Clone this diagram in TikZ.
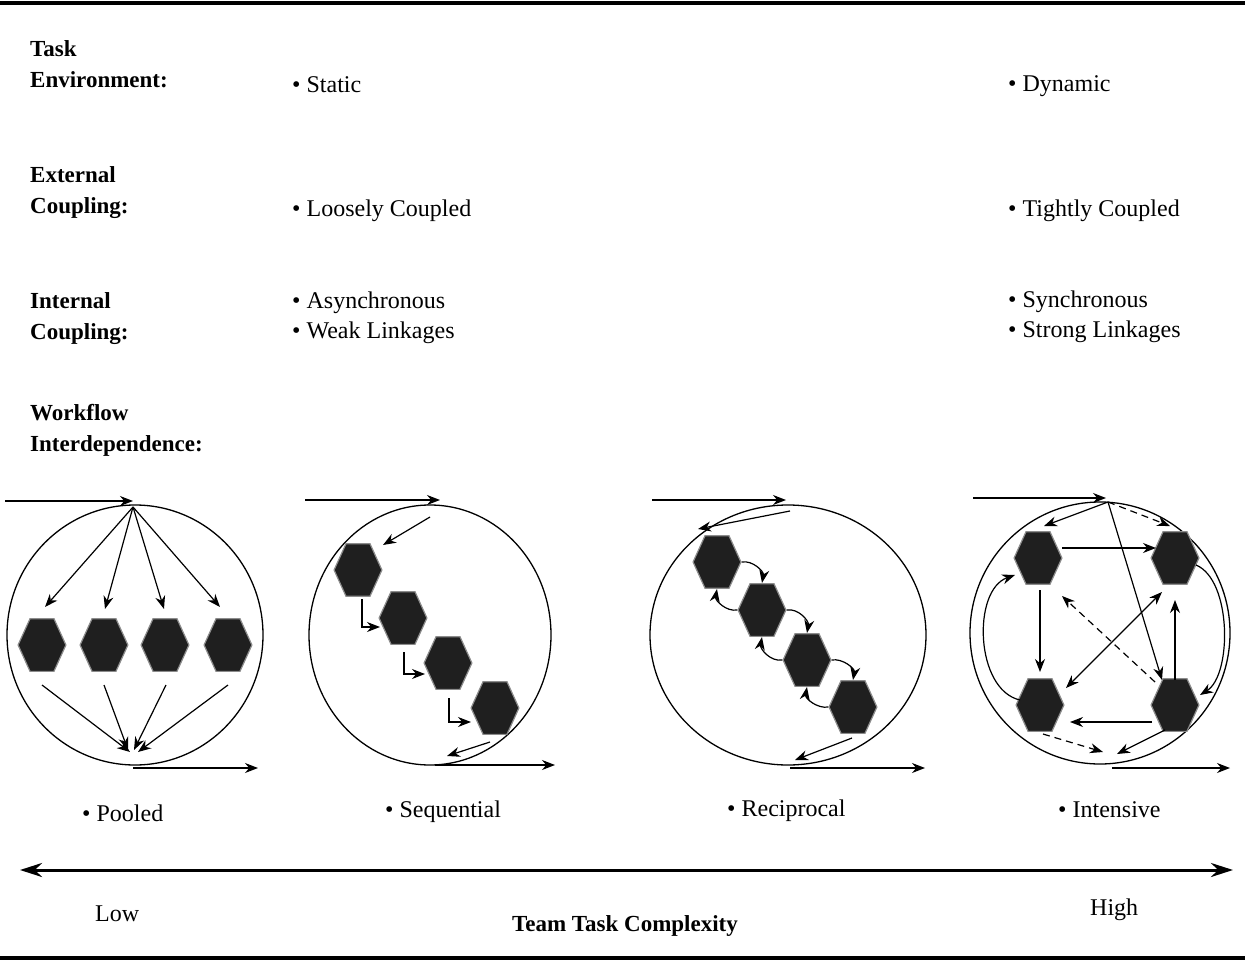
\documentclass[tikz,border=0pt]{standalone}
\usepackage{fontspec}
\setmainfont{Liberation Serif}
\usetikzlibrary{shapes.geometric,arrows.meta}
\begin{document}
\begin{tikzpicture}[x=1pt,y=-1pt,
  txt/.style={anchor=west,font=\fontsize{24}{26}\selectfont,inner sep=0pt},
  lbl/.style={txt,font=\fontsize{23}{31}\selectfont\bfseries,align=left,anchor=north west},
  hex/.style={regular polygon,regular polygon sides=6,minimum size=52pt,inner sep=0pt,xscale=0.92,yscale=1.17,transform shape,fill=black!88,draw=black!45,line width=1.2pt},
  ring/.style={draw,line width=1.3pt},
  ar/.style={-{Stealth[length=13pt,width=10pt]},line width=1.2pt},
  dar/.style={ar,dashed,dash pattern=on 7pt off 5pt},
  bar/.style={{Stealth[length=13pt,width=10pt]}-{Stealth[length=13pt,width=10pt]},line width=1.2pt}]
\useasboundingbox (0,0) rectangle (1245,963);
\draw[line width=3.5pt] (0,3) -- (1245,3);
\draw[line width=3.5pt] (0,958) -- (1245,958);
% left labels
\node[lbl] (l1) at (30,40) {Task\\Environment:};
\node[lbl] (l2) at (30,166) {External\\Coupling:};
\node[lbl] (l3) at (30,292) {Internal\\Coupling:};
\node[lbl] (l4) at (30,404) {Workflow\\Interdependence:};
\node[txt] (s1) at (292,85) {• Static};
\node[txt] (s2) at (292,211) {• Loosely Coupled};
\node[txt] (s3) at (292,303) {• Asynchronous};
\node[txt] (s4) at (292,333) {• Weak Linkages};
\node[txt] (d1) at (1008,86) {• Dynamic};
\node[txt] (d2) at (1008,211) {• Tightly Coupled};
\node[txt] (d3) at (1008,302) {• Synchronous};
\node[txt] (d4) at (1008,332) {• Strong Linkages};
% ---- Pooled
\draw[ring] (135,635) ellipse (128pt and 130pt);
\coordinate (pi0) at (5,501); \coordinate (pi) at (133,501);
\draw[ar] (pi0) -- (pi);
\node[hex] (p1) at (42,645) {}; \node[hex] (p2) at (104,645) {};
\node[hex] (p3) at (165,645) {}; \node[hex] (p4) at (228,645) {};
\coordinate (ps) at (133,507);
\draw[ar] (ps) -- (45,607); \draw[ar] (ps) -- (105,609);
\draw[ar] (ps) -- (164,609); \draw[ar] (ps) -- (220,607);
\coordinate (pb) at (130,752);
\draw[ar] (42,685) -- (pb); \draw[ar] (104,685) -- (128,750);
\draw[ar] (166,685) -- (134,750); \draw[ar] (228,685) -- (138,752);
\draw[ar] (133,768) -- (258,768);
\node[txt] (pl) at (82,813) {• Pooled};
% ---- Sequential
\draw[ring] (430,635) ellipse (121pt and 130pt);
\draw[ar] (305,500) -- (440,500);
\node[hex] (q1) at (358,570) {}; \node[hex] (q2) at (403,618) {};
\node[hex] (q3) at (448,663) {}; \node[hex] (q4) at (495,708) {};
\draw[ar] (430,517) -- (383,545);
\draw[ar] (362,599) -- (362,627) -- (380,627);
\draw[ar] (404,652) -- (404,674) -- (425,674);
\draw[ar] (449,698) -- (449,722) -- (471,722);
\draw[ar] (490,742) -- (447,756);
\draw[ar] (435,765) -- (555,765);
\node[txt] (ql) at (385,812) {• Sequential};
% ---- Reciprocal
\draw[ring] (788,635) ellipse (138pt and 130pt);
\draw[ar] (652,500) -- (786,500);
\node[hex] (r1) at (717,562) {}; \node[hex] (r2) at (762,610) {};
\node[hex] (r3) at (807,660) {}; \node[hex] (r4) at (853,707) {};
\draw[ar] (790,511) -- (698,529);
\foreach \a/\b in {r1/r2,r2/r3,r3/r4}{
  \draw[ar] (\a.east) to[out=10,in=80] (\b.north);
  \draw[ar] (\b.west) to[out=190,in=260] (\a.south);
}
\draw[ar] (852,738) -- (795,760);
\draw[ar] (790,768) -- (925,768);
\node[txt] (rl) at (727,811) {• Reciprocal};
% ---- Intensive
\draw[ring] (1100,633) ellipse (130pt and 131pt);
\draw[ar] (973,498) -- (1106,498);
\node[hex] (t1) at (1038,558) {}; \node[hex] (t2) at (1175,558) {};
\node[hex] (t3) at (1040,705) {}; \node[hex] (t4) at (1175,705) {};
\coordinate (ts) at (1108,502);
\draw[ar] (ts) -- (1044,526);
\draw[dar] (ts) -- (1170,526);
\draw[ar] (ts) -- (1162,680);
\draw[ar] (1062,548) -- (1156,548);
\draw[ar] (1040,590) -- (1040,672);
\draw[bar] (1066,688) -- (1162,592);
\draw[dar] (1155,682) -- (1062,596);
\draw[ar] (1175,680) -- (1175,600);
\draw[ar] (1152,722) -- (1070,722);
\draw[ar] (1020,700) .. controls (975,690) and (972,590) .. (1015,575);
\draw[ar] (1196,565) .. controls (1232,580) and (1232,675) .. (1200,695);
\draw[dar] (1043,734) -- (1103,752);
\draw[ar] (1165,730) -- (1117,754);
\draw[ar] (1112,768) -- (1230,768);
\node[txt] (tl) at (1058,810) {• Intensive};
% axis
\draw[{Stealth[length=22pt,width=14pt]}-{Stealth[length=22pt,width=14pt]},line width=3pt] (20,870) -- (1233,870);
\node[txt] (lo) at (95,914) {Low};
\node[txt] (hi) at (1090,910) {High};
\node[txt,font=\fontsize{23}{26}\selectfont\bfseries,anchor=center] (ttc) at (625,926) {Team Task Complexity};
\end{tikzpicture}
\end{document}
